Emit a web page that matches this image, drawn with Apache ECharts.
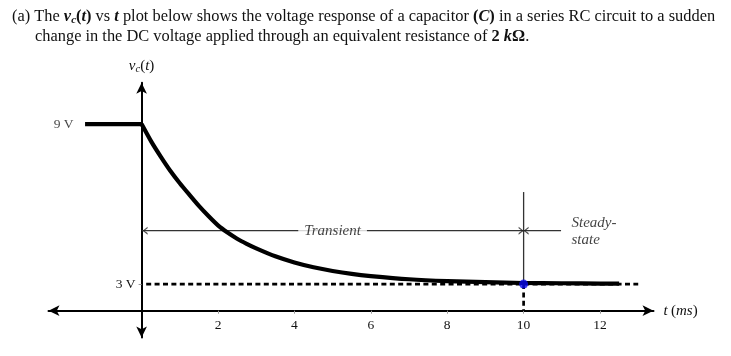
<!DOCTYPE html>
<html>
<head>
<meta charset="utf-8">
<script src="https://cdn.jsdelivr.net/npm/echarts@6/dist/echarts.min.js"></script>
<style>
html,body{margin:0;padding:0;background:#fff;}
#chart{width:731px;height:356px;}
</style>
</head>
<body>
<div id="chart"></div>
<script>
// ---- data ----
const curveT = [0, 0.25, 0.5, 0.75, 1, 1.25, 1.5, 1.75, 2, 2.25, 2.5, 2.75, 3, 3.5, 4, 4.5, 5, 5.5, 6, 7, 8, 9, 10, 11, 12, 12.5];
const curveV = [9.0, 8.35, 7.78, 7.25, 6.78, 6.35, 5.93, 5.55, 5.2, 4.93, 4.70, 4.51, 4.34, 4.04, 3.81, 3.63, 3.49, 3.38, 3.30, 3.18, 3.11, 3.07, 3.04, 3.03, 3.02, 3.02];
const preT = [-1.48, 0];
const preV = [9, 9];
const steadyLevel = 3;          // V
const steadyLineT = [0.12, 13]; // dashed 3 V line extent
const steadyTime = 10;          // ms
const markerTop = 6.45;         // top of the thin vertical marker (V)
const spanLevel = 5;            // level of the Transient / Steady-state arrows (V)
const steadyEnd = 10.98;        // end of the steady-state arrow line (ms)
const xTicks = [2, 4, 6, 8, 10, 12];
const yTicks = [3];
const initialLabel = '9 V';

const FONT = 'Liberation Serif';
const INK = '#111';

const chevR = 'path://M0,0 L10,5 L0,10 L0,8 L6.6,5 L0,2 Z';
const chevL = 'path://M10,0 L0,5 L10,10 L10,8 L3.4,5 L10,2 Z';

const chart = echarts.init(document.getElementById('chart'), null, {renderer: 'canvas'});

const TS = 16.4;
const titleRich = {
  r: {fontFamily: FONT, fontSize: TS, color: INK, fontWeight: 'normal'},
  b: {fontFamily: FONT, fontSize: TS, color: INK, fontWeight: 'bold'},
  bi: {fontFamily: FONT, fontSize: TS, color: INK, fontWeight: 'bold', fontStyle: 'italic'},
  bs: {fontFamily: FONT, fontSize: 11, color: INK, fontWeight: 'bold', fontStyle: 'italic', verticalAlign: 'bottom', padding: [7, 0, 0, 0]}
};

const option = {
  animation: false,
  backgroundColor: '#fff',
  title: [
    {
      left: 12, top: 8, padding: 0,
      text: '{r|(a) The }{bi|v}{bs|c}{b|(}{bi|t}{b|)}{r| vs }{bi|t}{r| plot below shows the voltage response of a capacitor }{b|(}{bi|C}{b|)}{r| in a series RC circuit to a sudden}',
      textStyle: {fontWeight: 'normal', fontFamily: FONT, rich: titleRich}
    },
    {
      left: 35, top: 29, padding: 0,
      text: '{r|change in the DC voltage applied through an equivalent resistance of }{b|2 }{bi|k}{b|Ω}{r|.}',
      textStyle: {fontWeight: 'normal', fontFamily: FONT, rich: titleRich}
    }
  ],
  grid: {left: 48.5, right: 77.5, top: 82.7, bottom: 18.6},
  xAxis: {
    type: 'value',
    min: -2.437, max: 13.4,
    offset: -26.7,
    axisLine: {show: true, onZero: false, lineStyle: {color: '#000', width: 2}, symbol: ['arrow', 'arrow'], symbolSize: [8, 11]},
    axisTick: {show: true, customValues: xTicks, length: 3, lineStyle: {color: '#999', width: 1}},
    axisLabel: {customValues: xTicks, fontFamily: FONT, fontSize: 13.5, color: INK, margin: 8},
    splitLine: {show: false},
    name: '{i|t} {r|(}{i|ms}{r|)}',
    nameLocation: 'end', nameGap: 10,
    nameTextStyle: {rich: {
      i: {fontFamily: FONT, fontSize: 15, fontStyle: 'italic', color: INK},
      r: {fontFamily: FONT, fontSize: 15, color: INK}
    }}
  },
  yAxis: {
    type: 'value',
    min: 1, max: 10.55,
    offset: -93.1,
    axisLine: {show: true, onZero: false, lineStyle: {color: '#000', width: 2}, symbol: ['arrow', 'arrow'], symbolSize: [8, 11]},
    axisTick: {show: true, customValues: yTicks, length: 3, lineStyle: {color: '#999', width: 1}},
    axisLabel: {customValues: yTicks, formatter: '{value} V', fontFamily: FONT, fontSize: 13.5, color: INK, margin: 6},
    splitLine: {show: false},
    name: '{i|v}{s|c}{r|(}{i|t}{r|)}',
    nameLocation: 'end', nameGap: 8,
    nameTextStyle: {align: 'center', rich: {
      i: {fontFamily: FONT, fontSize: 15, fontStyle: 'italic', color: INK},
      s: {fontFamily: FONT, fontSize: 10.5, fontStyle: 'italic', color: INK, verticalAlign: 'bottom', padding: [6, 0, 0, 0]},
      r: {fontFamily: FONT, fontSize: 15, color: INK}
    }}
  },
  series: [
    {
      type: 'line', silent: true, symbol: 'none', z: 2,
      data: steadyLineT.map(t => [t, steadyLevel]),
      lineStyle: {color: '#000', width: 2.7, type: [5, 3.4]}
    },
    {
      type: 'line', silent: true, symbol: 'none', z: 2,
      data: [[steadyTime, steadyLevel], [steadyTime, 2]],
      lineStyle: {color: '#000', width: 2.7, type: [5, 3.4]}
    },
    {
      type: 'line', silent: true, symbol: 'none', z: 2,
      data: [[steadyTime, markerTop], [steadyTime, steadyLevel]],
      lineStyle: {color: '#333', width: 1.3}
    },
    {
      type: 'line', silent: true, symbol: 'none', z: 2,
      data: [[0, spanLevel], [steadyTime, spanLevel]],
      lineStyle: {color: '#333', width: 1.3}
    },
    {
      type: 'line', silent: true, symbol: 'none', z: 2,
      data: [[steadyTime, spanLevel], [steadyEnd, spanLevel]],
      lineStyle: {color: '#333', width: 1.3}
    },
    {
      type: 'scatter', silent: true, z: 3,
      symbolSize: [5, 8],
      itemStyle: {color: '#222'},
      data: [
        {value: [0, spanLevel], symbol: chevL, symbolOffset: [3.5, 0]},
        {value: [steadyTime, spanLevel], symbol: chevR, symbolOffset: [-2.5, 0]},
        {value: [steadyTime, spanLevel], symbol: chevL, symbolOffset: [2.5, 0]}
      ]
    },
    {
      type: 'line', silent: true, symbol: 'none', z: 4,
      data: preT.map((t, i) => [t, preV[i]]),
      lineStyle: {color: '#000', width: 4.2, cap: 'butt'}
    },
    {
      type: 'line', silent: true, symbol: 'none', z: 4,
      smooth: 0.2,
      data: curveT.map((t, i) => [t, curveV[i]]),
      lineStyle: {color: '#000', width: 4.2, join: 'round'}
    },
    {
      type: 'scatter', silent: true, z: 5,
      symbolSize: 9,
      itemStyle: {color: '#0a0aee'},
      data: [[steadyTime, steadyLevel]]
    },
    {
      type: 'scatter', silent: true, z: 6,
      symbolSize: 1, itemStyle: {color: 'rgba(0,0,0,0)'},
      data: [
        {value: [preT[0], preV[0]], label: {show: true, position: 'left', distance: 11, formatter: initialLabel, fontFamily: FONT, fontSize: 13.5, color: INK}},
        {value: [5, spanLevel], label: {show: true, position: 'inside', formatter: 'Transient', fontFamily: FONT, fontSize: 15, fontStyle: 'italic', color: INK, backgroundColor: '#fff', padding: [2, 6]}},
        {value: [11.24, 4.95], label: {show: true, position: 'right', distance: 0, formatter: 'Steady-\nstate', fontFamily: FONT, fontSize: 15, fontStyle: 'italic', color: INK, lineHeight: 17, align: 'left'}}
      ]
    }
  ]
};
chart.setOption(option);
</script>
</body>
</html>
